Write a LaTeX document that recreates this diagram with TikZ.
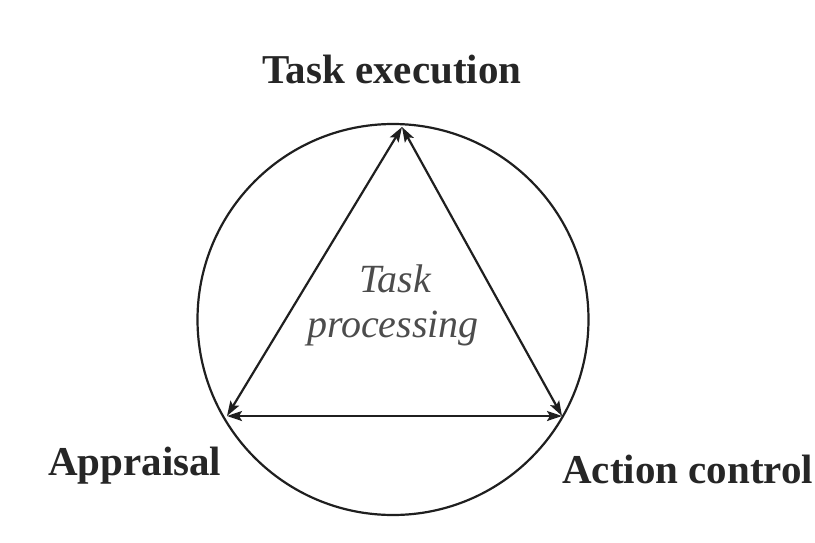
\documentclass[tikz,border=0pt]{standalone}
\usepackage{fontspec}
\setmainfont{Liberation Serif}
\usetikzlibrary{arrows.meta}
\begin{document}
\begin{tikzpicture}[x=1pt,y=-1pt,
  ink/.style={draw=black!88, line width=2.2pt},
  link/.style={ink, {Stealth[length=15pt,width=10pt,inset=3pt]}-{Stealth[length=15pt,width=10pt,inset=3pt]}},
  lbl/.style={anchor=base west, inner sep=0pt, text=black!85, font=\fontsize{41}{45}\selectfont\bfseries},
  mid/.style={anchor=base, inner sep=0pt, text=black!70, font=\fontsize{40}{45}\selectfont\itshape}]
\useasboundingbox (0,0) rectangle (815,542);
\node[circle, ink, minimum size=391pt, inner sep=0pt] (c) at (393,319.5) {};
\coordinate (top) at (402,127);
\coordinate (lft) at (227,416);
\coordinate (rgt) at (562,416);
\draw[link] (top) -- (lft);
\draw[link] (top) -- (rgt);
\draw[link] (lft) -- (rgt);
\node[lbl] (te) at (262,83) {Task execution};
\node[lbl] (ap) at (48,475) {Appraisal};
\node[lbl] (ac) at (562,483) {Action control};
\node[mid] (tp1) at (395,292) {Task};
\node[mid] (tp2) at (393,337) {processing};
\end{tikzpicture}
\end{document}
